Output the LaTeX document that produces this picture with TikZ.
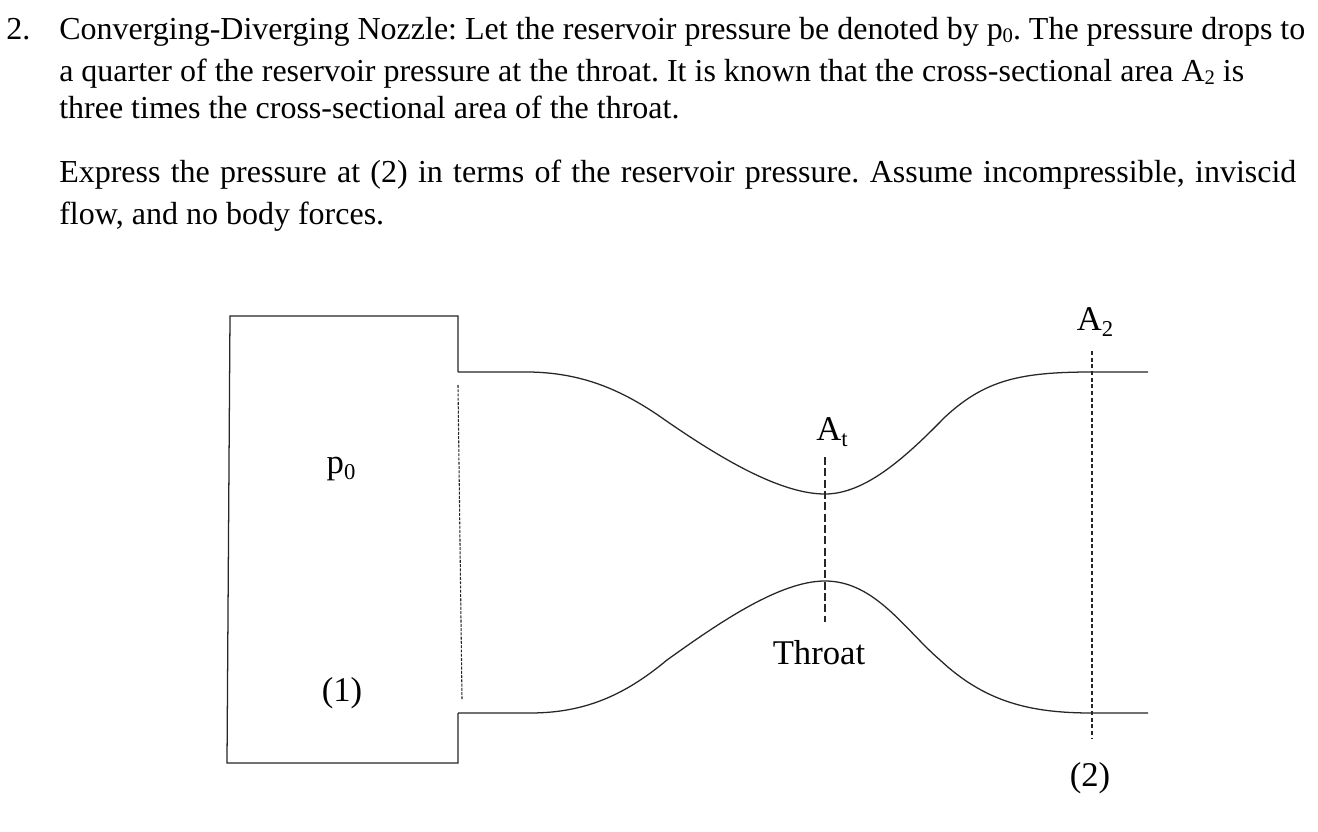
\documentclass[tikz,border=0pt]{standalone}
\usepackage{fontspec}
\setmainfont{Liberation Serif}
\newcommand{\subdrop}[1]{\raisebox{-5.2pt}{\fontsize{17pt}{17pt}\selectfont #1}}
\newcommand{\subbody}[1]{\raisebox{-2.4pt}{\fontsize{15.5pt}{16pt}\selectfont #1}}
\tikzset{
 body/.style={anchor=base west,inner sep=0pt,font=\fontsize{24pt}{28pt}\selectfont\frenchspacing},
 lab/.style={anchor=base,inner sep=0pt,font=\fontsize{26pt}{30pt}\selectfont},
 wall/.style={line width=0.95pt,black!85},
 guide/.style={line width=0.8pt,black!85},
}
\begin{document}
\begin{tikzpicture}[x=0.75pt,y=-0.75pt]
\useasboundingbox[fill=white] (0,0) rectangle (1318,832);
\node[body] (n) at (6,39) {2.};
\node[body] (t1) at (59,39) {Converging-Diverging Nozzle: Let the reservoir pressure be denoted by p\subbody{0}. The pressure drops to};
\node[body] (t2) at (59,81) {a quarter of the reservoir pressure at the throat. It is known that the cross-sectional area A\subbody{2} is};
\node[body] (t3) at (59,118) {three times the cross-sectional area of the throat.};
\node[body] (t4) at (59,182) {\spaceskip=7.7pt plus 0pt minus 0pt Express the pressure at (2) in terms of the reservoir pressure. Assume incompressible, inviscid};
\node[body] (t5) at (59,224) {flow, and no body forces.};
\draw[wall] (458,372) -- (458,316) -- (230,316) -- (227,763) -- (458,763) -- (458,713);
\draw[wall] (458,372) -- (530,372) .. controls (580,373) and (620,388) .. (665,420) .. controls (720,458) and (780,494) .. (825,494) .. controls (865,494) and (905,458) .. (945,417) .. controls (985,380) and (1020,372) .. (1092,372) -- (1148,372);
\draw[wall] (458,713) -- (530,713) .. controls (585,713) and (625,695) .. (667,660) .. controls (720,622) and (780,581) .. (825,581) .. controls (875,581) and (905,630) .. (940,660) .. controls (985,702) and (1030,713) .. (1092,713) -- (1148,713);
\draw[guide,dash pattern=on 2.2pt off 1pt] (458,385) -- (462,699);
\draw[guide,dash pattern=on 6pt off 2.5pt] (825,457) -- (825,622);
\draw[guide,dash pattern=on 3pt off 2pt] (1092,351) -- (1092,739);
\node[lab] (p) at (341,473) {p\subdrop{0}};
\node[lab] (o) at (342,701) {(1)};
\node[lab] (th) at (819,664) {Throat};
\node[lab] (at) at (832,440) {A\subdrop{t}};
\node[lab] (a2) at (1095,330) {A\subdrop{2}};
\node[lab] (tw) at (1090,786) {(2)};
\end{tikzpicture}
\end{document}
